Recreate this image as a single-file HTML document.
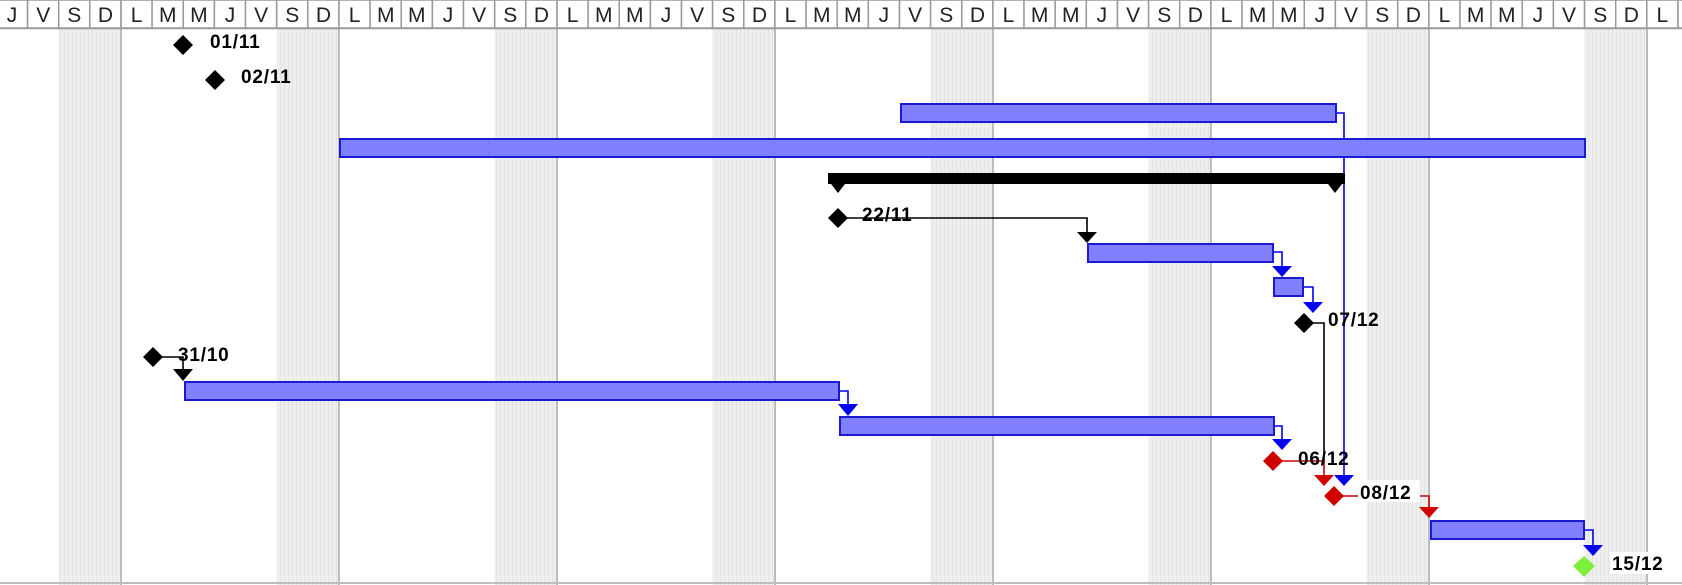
<!DOCTYPE html>
<html><head><meta charset="utf-8"><style>
html,body{margin:0;padding:0;background:#fff;}
svg{display:block;}
.h{font-family:"Liberation Sans",sans-serif;font-size:21px;fill:#222;text-anchor:middle;}
.l{font-family:"Liberation Sans",sans-serif;font-size:19px;font-weight:bold;fill:#000;letter-spacing:0.8px;}
.bar{fill:#8080ff;stroke:#1a1ad0;stroke-width:2;}
</style></head><body>
<svg width="1682" height="585" viewBox="0 0 1682 585" xmlns="http://www.w3.org/2000/svg">
<defs>
<pattern id="st" width="4" height="4" patternUnits="userSpaceOnUse"><rect width="4" height="4" fill="#eeeeee"/><rect width="1" height="4" fill="#e4e4e4"/></pattern>
</defs>
<rect width="1682" height="585" fill="#fff"/>
<g fill="url(#st)">
<rect x="58.7" y="29" width="62.3" height="556"/>
<rect x="276.7" y="29" width="62.3" height="556"/>
<rect x="494.7" y="29" width="62.3" height="556"/>
<rect x="712.6" y="29" width="62.3" height="556"/>
<rect x="930.6" y="29" width="62.3" height="556"/>
<rect x="1148.6" y="29" width="62.3" height="556"/>
<rect x="1366.6" y="29" width="62.3" height="556"/>
<rect x="1584.6" y="29" width="62.3" height="556"/>
</g>
<g stroke="#bdbdbd" stroke-width="2">
<line x1="121" y1="29" x2="121" y2="585"/><line x1="339" y1="29" x2="339" y2="585"/>
<line x1="557" y1="29" x2="557" y2="585"/><line x1="775" y1="29" x2="775" y2="585"/>
<line x1="993" y1="29" x2="993" y2="585"/><line x1="1211" y1="29" x2="1211" y2="585"/>
<line x1="1429" y1="29" x2="1429" y2="585"/><line x1="1647" y1="29" x2="1647" y2="585"/>
<line x1="0" y1="583" x2="1682" y2="583"/>
</g>
<!-- header -->
<g fill="#fff" stroke="#999" stroke-width="1.5">
<rect x="-3.6" y="0" width="31.14" height="28"/><rect x="27.6" y="0" width="31.14" height="28"/><rect x="58.7" y="0" width="31.14" height="28"/><rect x="89.8" y="0" width="31.14" height="28"/><rect x="121" y="0" width="31.14" height="28"/><rect x="152.1" y="0" width="31.14" height="28"/><rect x="183.3" y="0" width="31.14" height="28"/><rect x="214.4" y="0" width="31.14" height="28"/><rect x="245.5" y="0" width="31.14" height="28"/><rect x="276.7" y="0" width="31.14" height="28"/><rect x="307.8" y="0" width="31.14" height="28"/><rect x="339" y="0" width="31.14" height="28"/><rect x="370.1" y="0" width="31.14" height="28"/><rect x="401.2" y="0" width="31.14" height="28"/><rect x="432.4" y="0" width="31.14" height="28"/><rect x="463.5" y="0" width="31.14" height="28"/><rect x="494.7" y="0" width="31.14" height="28"/><rect x="525.8" y="0" width="31.14" height="28"/><rect x="557" y="0" width="31.14" height="28"/><rect x="588.1" y="0" width="31.14" height="28"/><rect x="619.2" y="0" width="31.14" height="28"/><rect x="650.4" y="0" width="31.14" height="28"/><rect x="681.5" y="0" width="31.14" height="28"/><rect x="712.6" y="0" width="31.14" height="28"/><rect x="743.8" y="0" width="31.14" height="28"/><rect x="774.9" y="0" width="31.14" height="28"/><rect x="806.1" y="0" width="31.14" height="28"/><rect x="837.2" y="0" width="31.14" height="28"/><rect x="868.3" y="0" width="31.14" height="28"/><rect x="899.5" y="0" width="31.14" height="28"/><rect x="930.6" y="0" width="31.14" height="28"/><rect x="961.8" y="0" width="31.14" height="28"/><rect x="992.9" y="0" width="31.14" height="28"/><rect x="1024" y="0" width="31.14" height="28"/><rect x="1055.2" y="0" width="31.14" height="28"/><rect x="1086.3" y="0" width="31.14" height="28"/><rect x="1117.5" y="0" width="31.14" height="28"/><rect x="1148.6" y="0" width="31.14" height="28"/><rect x="1179.7" y="0" width="31.14" height="28"/><rect x="1210.9" y="0" width="31.14" height="28"/><rect x="1242" y="0" width="31.14" height="28"/><rect x="1273.2" y="0" width="31.14" height="28"/><rect x="1304.3" y="0" width="31.14" height="28"/><rect x="1335.4" y="0" width="31.14" height="28"/><rect x="1366.6" y="0" width="31.14" height="28"/><rect x="1397.7" y="0" width="31.14" height="28"/><rect x="1428.9" y="0" width="31.14" height="28"/><rect x="1460" y="0" width="31.14" height="28"/><rect x="1491.1" y="0" width="31.14" height="28"/><rect x="1522.3" y="0" width="31.14" height="28"/><rect x="1553.4" y="0" width="31.14" height="28"/><rect x="1584.6" y="0" width="31.14" height="28"/><rect x="1615.7" y="0" width="31.14" height="28"/><rect x="1646.8" y="0" width="31.14" height="28"/><rect x="1678" y="0" width="31.14" height="28"/>
</g>
<g class="h">
<text x="12" y="22">J</text><text x="43.2" y="22">V</text><text x="74.3" y="22">S</text><text x="105.4" y="22">D</text><text x="136.6" y="22">L</text><text x="167.7" y="22">M</text><text x="198.9" y="22">M</text><text x="230" y="22">J</text><text x="261.1" y="22">V</text><text x="292.3" y="22">S</text><text x="323.4" y="22">D</text><text x="354.6" y="22">L</text><text x="385.7" y="22">M</text><text x="416.8" y="22">M</text><text x="448" y="22">J</text><text x="479.1" y="22">V</text><text x="510.3" y="22">S</text><text x="541.4" y="22">D</text><text x="572.6" y="22">L</text><text x="603.7" y="22">M</text><text x="634.8" y="22">M</text><text x="666" y="22">J</text><text x="697.1" y="22">V</text><text x="728.2" y="22">S</text><text x="759.4" y="22">D</text><text x="790.5" y="22">L</text><text x="821.7" y="22">M</text><text x="852.8" y="22">M</text><text x="883.9" y="22">J</text><text x="915.1" y="22">V</text><text x="946.2" y="22">S</text><text x="977.4" y="22">D</text><text x="1008.5" y="22">L</text><text x="1039.6" y="22">M</text><text x="1070.8" y="22">M</text><text x="1101.9" y="22">J</text><text x="1133.1" y="22">V</text><text x="1164.2" y="22">S</text><text x="1195.3" y="22">D</text><text x="1226.5" y="22">L</text><text x="1257.6" y="22">M</text><text x="1288.8" y="22">M</text><text x="1319.9" y="22">J</text><text x="1351" y="22">V</text><text x="1382.2" y="22">S</text><text x="1413.3" y="22">D</text><text x="1444.5" y="22">L</text><text x="1475.6" y="22">M</text><text x="1506.7" y="22">M</text><text x="1537.9" y="22">J</text><text x="1569" y="22">V</text><text x="1600.2" y="22">S</text><text x="1631.3" y="22">D</text><text x="1662.4" y="22">L</text>
</g>
<line x1="0" y1="28.5" x2="1682" y2="28.5" stroke="#999" stroke-width="1.5"/>

<g fill="none" stroke-width="1.6">
<polyline points="1336,113 1344,113 1344,478" stroke="#0000ee"/>
<polyline points="1273,252 1282,252 1282,268" stroke="#0000ee"/>
<polyline points="1303,287 1313,287 1313,305" stroke="#0000ee"/>
<polyline points="838,218 1087,218 1087,232" stroke="#000"/>
<polyline points="1304,323 1324,323 1324,462" stroke="#000"/>
<polyline points="153,357 183,357 183,372" stroke="#000"/>
<polyline points="839,391 848,391 848,407" stroke="#0000ee"/>
<polyline points="1274,426 1282,426 1282,442" stroke="#0000ee"/>
<polyline points="1273,461 1324,461 1324,478" stroke="#d00000"/>
<polyline points="1334,496 1429,496 1429,510" stroke="#d00000"/>
<polyline points="1584,530 1593,530 1593,548" stroke="#0000ee"/>
</g>

<rect class="bar" x="901" y="104" width="435" height="18"/>
<rect class="bar" x="340" y="139" width="1245" height="18"/>
<rect class="bar" x="1088" y="244" width="185" height="18"/>
<rect class="bar" x="1274" y="278" width="29" height="18"/>
<rect class="bar" x="185" y="382" width="654" height="18"/>
<rect class="bar" x="840" y="417" width="434" height="18"/>
<rect class="bar" x="1431" y="521" width="153" height="18"/>

<rect x="828" y="173" width="517" height="11" fill="#000"/>
<polygon points="828,180 848,180 838,193" fill="#000"/>
<polygon points="1325,180 1345,180 1335,193" fill="#000"/>

<g>
<polygon points="1077,232 1097,232 1087,243" fill="#000"/>
<polygon points="1272,266 1292,266 1282,277" fill="#0000ee"/>
<polygon points="1303,302 1323,302 1313,313" fill="#0000ee"/>
<polygon points="173,369 193,369 183,381" fill="#000"/>
<polygon points="838,404 858,404 848,416" fill="#0000ee"/>
<polygon points="1272,439 1292,439 1282,450" fill="#0000ee"/>
<polygon points="1314,475 1334,475 1324,486" fill="#d00000"/>
<polygon points="1334,475 1354,475 1344,486" fill="#0000ee"/>
<polygon points="1419,507 1439,507 1429,518" fill="#d00000"/>
<polygon points="1583,545 1603,545 1593,556" fill="#0000ee"/>
</g>

<g>
<polygon points="183,35 193,45 183,55 173,45" fill="#000"/>
<polygon points="215,70 225,80 215,90 205,80" fill="#000"/>
<polygon points="838,208 848,218 838,228 828,218" fill="#000"/>
<polygon points="1304,313 1314,323 1304,333 1294,323" fill="#000"/>
<polygon points="153,347 163,357 153,367 143,357" fill="#000"/>
<polygon points="1273,451 1283,461 1273,471 1263,461" fill="#d00000"/>
<polygon points="1334,486 1344,496 1334,506 1324,496" fill="#d00000"/>
<polygon points="1584,556 1595,566 1584,577 1573,566" fill="#7cf03c"/>
</g>

<g class="l">
<text x="210" y="48">01/11</text>
<text x="241" y="83">02/11</text>
<text x="862" y="221">22/11</text>
<text x="1328" y="326">07/12</text>
<text x="178" y="361">31/10</text>
<text x="1298" y="465">06/12</text>
<rect x="1358" y="480" width="62" height="22" fill="#fff"/>
<text x="1360" y="499">08/12</text>
<rect x="1610" y="552" width="62" height="22" fill="#fff"/>
<text x="1612" y="570">15/12</text>
</g>
</svg>
</body></html>
